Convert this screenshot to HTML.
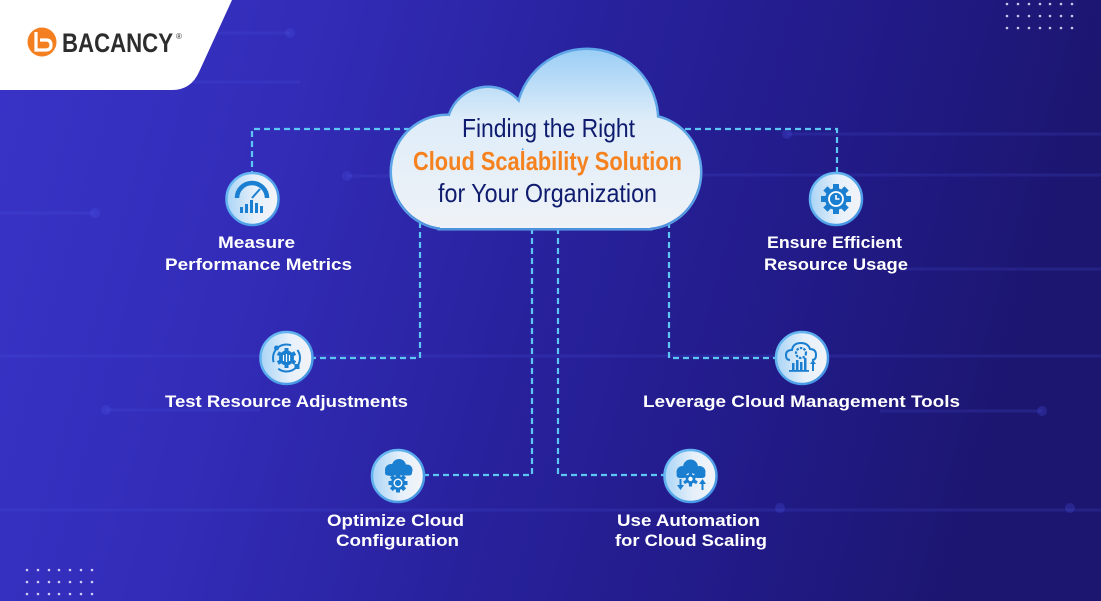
<!DOCTYPE html>
<html><head><meta charset="utf-8">
<style>
html,body{margin:0;padding:0;}
body{width:1101px;height:601px;overflow:hidden;background:#2a24a0;}
svg{display:block;}
</style></head>
<body>
<svg width="1101" height="601" viewBox="0 0 1101 601" xmlns="http://www.w3.org/2000/svg">
<defs>
  <linearGradient id="bg" x1="0" y1="0" x2="1" y2="0.15">
    <stop offset="0" stop-color="#3934c7"/>
    <stop offset="0.28" stop-color="#322cb8"/>
    <stop offset="0.55" stop-color="#28219c"/>
    <stop offset="0.8" stop-color="#211a86"/>
    <stop offset="1" stop-color="#1c1670"/>
  </linearGradient>
  <linearGradient id="cloudFill" gradientUnits="userSpaceOnUse" x1="0" y1="50" x2="0" y2="228">
    <stop offset="0" stop-color="#9ccef5"/>
    <stop offset="0.4" stop-color="#dfedf9"/>
    <stop offset="1" stop-color="#eff2f7"/>
  </linearGradient>
  <linearGradient id="icoFill" x1="0" y1="0" x2="1" y2="0">
    <stop offset="0" stop-color="#a9d4f6"/>
    <stop offset="0.55" stop-color="#e6f0fa"/>
    <stop offset="1" stop-color="#f3f4f8"/>
  </linearGradient>
  <linearGradient id="icoStroke" x1="0" y1="0" x2="1" y2="1">
    <stop offset="0" stop-color="#6ec0f5"/>
    <stop offset="1" stop-color="#3f8fe0"/>
  </linearGradient>
</defs>

<rect width="1101" height="601" fill="url(#bg)"/>

<!-- faint circuit lines -->
<g stroke="#4b57e6" stroke-opacity="0.18" stroke-width="3" fill="none">
  <line x1="0" y1="213" x2="95" y2="213"/>
  <line x1="0" y1="356" x2="1101" y2="356"/>
  <line x1="106" y1="410" x2="260" y2="410"/>
  <line x1="0" y1="510" x2="1101" y2="510"/>
  <line x1="900" y1="269" x2="1101" y2="269"/>
  <line x1="880" y1="411" x2="1042" y2="411"/>
  <line x1="787" y1="134" x2="1101" y2="134"/>
  <line x1="690" y1="175" x2="1101" y2="175"/>
  <line x1="218" y1="33" x2="290" y2="33"/>
  <line x1="190" y1="82" x2="300" y2="82"/>
  <line x1="347" y1="176" x2="400" y2="176"/>
</g>
<g fill="#4b57e6" fill-opacity="0.25">
  <circle cx="95" cy="213" r="5"/>
  <circle cx="106" cy="410" r="5"/>
  <circle cx="1042" cy="411" r="5"/>
  <circle cx="787" cy="134" r="5"/>
  <circle cx="290" cy="33" r="5"/>
  <circle cx="347" cy="176" r="5"/>
  <circle cx="780" cy="508" r="5"/>
  <circle cx="1070" cy="508" r="5"/>
</g>

<!-- dot grids -->
<g fill="#e8e8ff" fill-opacity="0.85">
  <circle cx="1007" cy="4" r="1.3"/><circle cx="1018" cy="4" r="1.3"/><circle cx="1029" cy="4" r="1.3"/><circle cx="1040" cy="4" r="1.3"/><circle cx="1050" cy="4" r="1.3"/><circle cx="1061" cy="4" r="1.3"/><circle cx="1072" cy="4" r="1.3"/>
  <circle cx="1007" cy="16" r="1.3"/><circle cx="1018" cy="16" r="1.3"/><circle cx="1029" cy="16" r="1.3"/><circle cx="1040" cy="16" r="1.3"/><circle cx="1050" cy="16" r="1.3"/><circle cx="1061" cy="16" r="1.3"/><circle cx="1072" cy="16" r="1.3"/>
  <circle cx="1007" cy="28" r="1.3"/><circle cx="1018" cy="28" r="1.3"/><circle cx="1029" cy="28" r="1.3"/><circle cx="1040" cy="28" r="1.3"/><circle cx="1050" cy="28" r="1.3"/><circle cx="1061" cy="28" r="1.3"/><circle cx="1072" cy="28" r="1.3"/>
  <circle cx="27" cy="570" r="1.3"/><circle cx="38" cy="570" r="1.3"/><circle cx="49" cy="570" r="1.3"/><circle cx="59" cy="570" r="1.3"/><circle cx="70" cy="570" r="1.3"/><circle cx="81" cy="570" r="1.3"/><circle cx="92" cy="570" r="1.3"/>
  <circle cx="27" cy="582" r="1.3"/><circle cx="38" cy="582" r="1.3"/><circle cx="49" cy="582" r="1.3"/><circle cx="59" cy="582" r="1.3"/><circle cx="70" cy="582" r="1.3"/><circle cx="81" cy="582" r="1.3"/><circle cx="92" cy="582" r="1.3"/>
  <circle cx="27" cy="594" r="1.3"/><circle cx="38" cy="594" r="1.3"/><circle cx="49" cy="594" r="1.3"/><circle cx="59" cy="594" r="1.3"/><circle cx="70" cy="594" r="1.3"/><circle cx="81" cy="594" r="1.3"/><circle cx="92" cy="594" r="1.3"/>
</g>

<!-- logo panel -->
<path d="M0,0 H232 L199,72 Q191,90 172,90 H0 Z" fill="#ffffff"/>
<circle cx="42" cy="42" r="14.5" fill="#f47f20"/>
<path d="M36,32 V50 H46 Q51,50 51,45 Q51,40 46,40 H40" fill="none" stroke="#fff" stroke-width="3.2"/>
<text x="62" y="52" font-family="'Liberation Sans',sans-serif" font-weight="bold" font-size="27" fill="#2d2d2d" textLength="111" lengthAdjust="spacingAndGlyphs">BACANCY</text>
<text x="176" y="39" font-family="'Liberation Sans',sans-serif" font-size="8" fill="#2d2d2d">®</text>

<!-- dashed connectors -->
<g fill="none" stroke="#5ec6f3" stroke-width="2.2" stroke-dasharray="6 4">
  <path d="M410,129 H252 V172"/>
  <path d="M685,129 H837 V172"/>
  <path d="M420,222 V358 H313"/>
  <path d="M669,222 V358 H776"/>
  <path d="M532,228 V475 H425"/>
  <path d="M558,228 V475 H664"/>
</g>

<!-- main cloud -->
<g fill="#5ea6e8" stroke="#5ea6e8" stroke-width="5">
  <circle cx="587" cy="120" r="70"/>
  <circle cx="488" cy="128" r="40"/>
  <ellipse cx="447" cy="172" rx="55" ry="56"/>
  <ellipse cx="645" cy="172" rx="55" ry="56"/>
  <rect x="440" y="150" width="210" height="78"/>
</g>
<g fill="#3f7fd6" transform="translate(0,2)" opacity="0.5">
  <ellipse cx="447" cy="172" rx="55" ry="56"/>
  <ellipse cx="645" cy="172" rx="55" ry="56"/>
  <rect x="440" y="150" width="210" height="78"/>
</g>
<g fill="url(#cloudFill)">
  <circle cx="587" cy="120" r="70"/>
  <circle cx="488" cy="128" r="40"/>
  <ellipse cx="447" cy="172" rx="55" ry="56"/>
  <ellipse cx="645" cy="172" rx="55" ry="56"/>
  <rect x="440" y="150" width="210" height="78"/>
</g>
<text x="462" y="137" font-family="'Liberation Sans',sans-serif" font-size="26" fill="#0f1b6e" textLength="173" lengthAdjust="spacingAndGlyphs">Finding the Right</text>
<text x="413" y="170" font-family="'Liberation Sans',sans-serif" font-weight="bold" font-size="26" fill="#f5821f" textLength="269" lengthAdjust="spacingAndGlyphs">Cloud Scalability Solution</text>
<text x="438" y="202" font-family="'Liberation Sans',sans-serif" font-size="26" fill="#0f1b6e" textLength="219" lengthAdjust="spacingAndGlyphs">for Your Organization</text>

<!-- icon circles -->
<g stroke="url(#icoStroke)" stroke-width="2.5" fill="url(#icoFill)">
  <circle cx="252.5" cy="199" r="26"/>
  <circle cx="836" cy="199" r="26"/>
  <circle cx="286.5" cy="358" r="26"/>
  <circle cx="802" cy="358" r="26"/>
  <circle cx="398" cy="476" r="26"/>
  <circle cx="690.5" cy="476" r="26"/>
</g>

<!-- Measure icon -->
<g fill="#1b7fd1" stroke="#1b7fd1">
  <path d="M237,198 A15,15 0 0 1 267,198" fill="none" stroke-width="4.5"/>
  <line x1="252" y1="198" x2="260" y2="189" stroke-width="2"/>
  <g stroke="none">
    <rect x="240" y="207" width="3" height="6"/>
    <rect x="245" y="204" width="3" height="9"/>
    <rect x="250" y="200" width="3" height="13"/>
    <rect x="255" y="203" width="3" height="10"/>
    <rect x="260" y="206" width="3" height="7"/>
  </g>
</g>

<!-- Ensure icon: gear with clock -->
<g transform="translate(836,199)" fill="#1b7fd1">
  <circle r="11"/>
  <g>
    <rect x="-3" y="-15" width="6" height="6"/>
    <rect x="-3" y="-15" width="6" height="6" transform="rotate(45)"/>
    <rect x="-3" y="-15" width="6" height="6" transform="rotate(90)"/>
    <rect x="-3" y="-15" width="6" height="6" transform="rotate(135)"/>
    <rect x="-3" y="-15" width="6" height="6" transform="rotate(180)"/>
    <rect x="-3" y="-15" width="6" height="6" transform="rotate(225)"/>
    <rect x="-3" y="-15" width="6" height="6" transform="rotate(270)"/>
    <rect x="-3" y="-15" width="6" height="6" transform="rotate(315)"/>
  </g>
  <circle r="7" fill="none" stroke="#fff" stroke-width="1.8"/>
  <path d="M0,-4 V0 H3.5" fill="none" stroke="#fff" stroke-width="1.6"/>
</g>

<!-- Test icon: gear with arrows -->
<g transform="translate(286.5,358)">
  <circle r="13.5" fill="none" stroke="#1b7fd1" stroke-width="2" stroke-dasharray="30 8"/>
  <circle cx="-10" cy="-10" r="2.5" fill="#1b7fd1"/>
  <rect x="8" y="6" width="5" height="5" fill="#1b7fd1"/>
  <g fill="#1b7fd1">
    <circle r="7.5"/>
    <rect x="-2" y="-10" width="4" height="4"/>
    <rect x="-2" y="-10" width="4" height="4" transform="rotate(60)"/>
    <rect x="-2" y="-10" width="4" height="4" transform="rotate(120)"/>
    <rect x="-2" y="-10" width="4" height="4" transform="rotate(180)"/>
    <rect x="-2" y="-10" width="4" height="4" transform="rotate(240)"/>
    <rect x="-2" y="-10" width="4" height="4" transform="rotate(300)"/>
  </g>
  <path d="M-3,-3 V3 M0,-4 V4 M3,-3 V3" stroke="#fff" stroke-width="1.2"/>
</g>

<!-- Leverage icon -->
<g transform="translate(802,358)" fill="#1b7fd1" stroke="#1b7fd1">
  <path d="M-12,2 Q-16,2 -16,-3 Q-16,-8 -10,-8 Q-9,-15 -1,-15 Q6,-15 8,-9 Q14,-9 14,-3 Q14,2 10,2" fill="none" stroke-width="2"/>
  <circle cx="-1" cy="-5" r="5" fill="none" stroke-width="2.2" stroke-dasharray="2.5 1.2"/>
  <g stroke="none">
    <rect x="-10" y="5" width="2.5" height="7"/>
    <rect x="-6" y="2" width="2.5" height="10"/>
    <rect x="-2" y="4" width="2.5" height="8"/>
    <rect x="2" y="0" width="2.5" height="12"/>
    <rect x="-13" y="12" width="20" height="1.8"/>
    <path d="M10,13 V6 H8 L11,2 L14,6 H12 V13 Z"/>
  </g>
</g>

<!-- Optimize icon -->
<g transform="translate(398,476)" fill="#1b7fd1">
  <circle cx="-7" cy="-6" r="6"/>
  <circle cx="1" cy="-10" r="7"/>
  <circle cx="9" cy="-6" r="5.5"/>
  <rect x="-13" y="-6" width="27" height="5.5" rx="2.5"/>
  <g transform="translate(0,7)">
    <circle r="7"/>
    <rect x="-2" y="-9.5" width="4" height="4"/>
    <rect x="-2" y="-9.5" width="4" height="4" transform="rotate(45)"/>
    <rect x="-2" y="-9.5" width="4" height="4" transform="rotate(90)"/>
    <rect x="-2" y="-9.5" width="4" height="4" transform="rotate(135)"/>
    <rect x="-2" y="-9.5" width="4" height="4" transform="rotate(180)"/>
    <rect x="-2" y="-9.5" width="4" height="4" transform="rotate(225)"/>
    <rect x="-2" y="-9.5" width="4" height="4" transform="rotate(270)"/>
    <rect x="-2" y="-9.5" width="4" height="4" transform="rotate(315)"/>
    <circle r="3.8" fill="none" stroke="#fff" stroke-width="1.4"/>
  </g>
</g>

<!-- Automation icon -->
<g transform="translate(690.5,476)" fill="#1b7fd1">
  <circle cx="-8" cy="-4" r="6"/>
  <circle cx="0" cy="-9" r="7.5"/>
  <circle cx="9" cy="-4" r="6"/>
  <rect x="-14" y="-4" width="29" height="6" rx="3"/>
  <g transform="translate(0,3)">
    <circle r="5.5" stroke="#e8f0fa" stroke-width="1.2"/>
    <rect x="-1.6" y="-7.5" width="3.2" height="3"/>
    <rect x="-1.6" y="-7.5" width="3.2" height="3" transform="rotate(60)"/>
    <rect x="-1.6" y="-7.5" width="3.2" height="3" transform="rotate(120)"/>
    <rect x="-1.6" y="-7.5" width="3.2" height="3" transform="rotate(180)"/>
    <rect x="-1.6" y="-7.5" width="3.2" height="3" transform="rotate(240)"/>
    <rect x="-1.6" y="-7.5" width="3.2" height="3" transform="rotate(300)"/>
    <circle r="2.2" fill="#fff"/>
  </g>
  <path d="M-11,3 V9 H-13.5 L-10,14 L-6.5,9 H-9 V3 Z"/>
  <path d="M11,14 V8 H8.5 L12,3 L15.5,8 H13 V14 Z"/>
</g>

<!-- labels -->
<g font-family="'Liberation Sans',sans-serif" font-weight="bold" font-size="17" fill="#ffffff">
  <text x="218" y="248" textLength="77" lengthAdjust="spacingAndGlyphs">Measure</text>
  <text x="165" y="270" textLength="187" lengthAdjust="spacingAndGlyphs">Performance Metrics</text>
  <text x="767" y="248" textLength="135" lengthAdjust="spacingAndGlyphs">Ensure Efficient</text>
  <text x="764" y="270" textLength="144" lengthAdjust="spacingAndGlyphs">Resource Usage</text>
  <text x="165" y="407" textLength="243" lengthAdjust="spacingAndGlyphs">Test Resource Adjustments</text>
  <text x="643" y="407" textLength="317" lengthAdjust="spacingAndGlyphs">Leverage Cloud Management Tools</text>
  <text x="327" y="526" textLength="137" lengthAdjust="spacingAndGlyphs">Optimize Cloud</text>
  <text x="336" y="546" textLength="123" lengthAdjust="spacingAndGlyphs">Configuration</text>
  <text x="617" y="526" textLength="143" lengthAdjust="spacingAndGlyphs">Use Automation</text>
  <text x="615" y="546" textLength="152" lengthAdjust="spacingAndGlyphs">for Cloud Scaling</text>
</g>
</svg>
</body></html>
